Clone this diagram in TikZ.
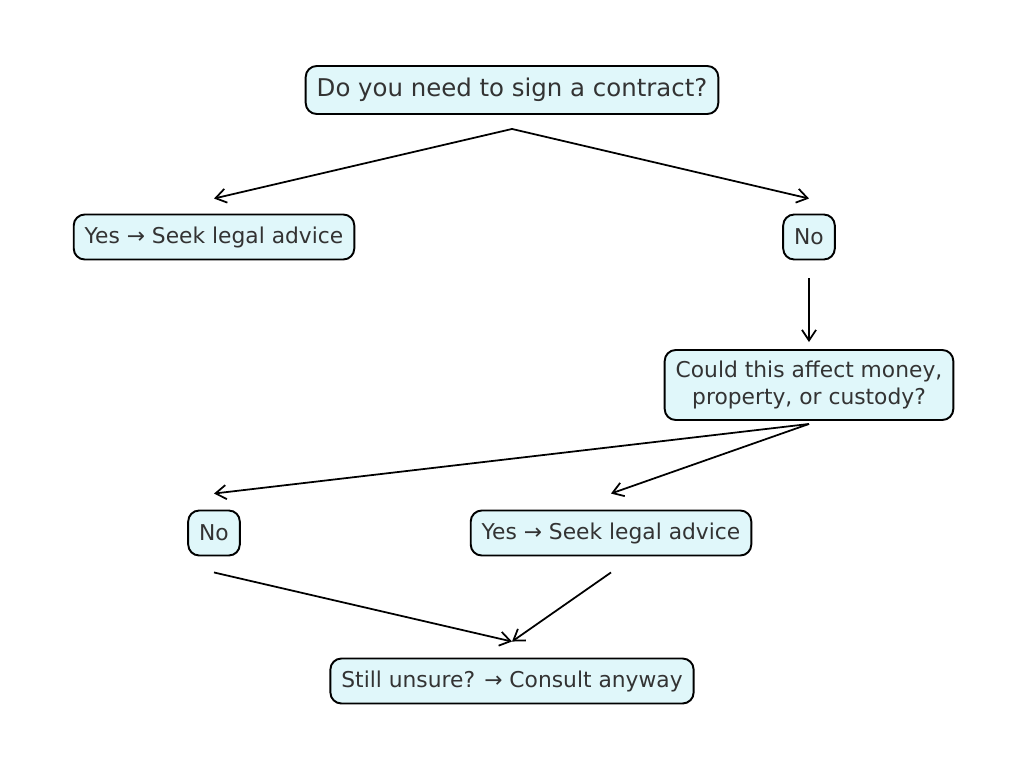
\documentclass[tikz,border=0pt]{standalone}
\usepackage{fontspec}
\setmainfont{DejaVu Sans}
\usetikzlibrary{positioning,arrows.meta}
\definecolor{boxfill}{HTML}{E0F7FA}
\definecolor{txt}{HTML}{333333}
\begin{document}
\begin{tikzpicture}[x=0.02cm,y=-0.02cm,
    box/.style={draw=black, fill=boxfill, rounded corners=0.22cm, line width=1.1pt,
      text=txt, font=\fontsize{12.4}{15}\selectfont, align=center,
      inner xsep=0.22cm, minimum height=0.9cm},
    arr/.style={-{Straight Barb[length=6pt,width=8pt]}, line width=1pt}]
    \useasboundingbox (0,0) rectangle (1024,771);
    \node[box, font=\fontsize{13.9}{16}\selectfont, minimum height=0.96cm] (q1) at (512,90) {Do you need to sign a contract?};
    \node[box] (yes1) at (214,237) {Yes → Seek legal advice};
    \node[box] (no1) at (809,237) {No};
    \node[box, minimum height=1.4cm] (q2) at (809,385) {Could this affect money,\\property, or custody?};
    \node[box] (no2) at (214,533) {No};
    \node[box] (yes2) at (611,533) {Yes → Seek legal advice};
    \node[box] (end) at (512,681) {Still unsure? → Consult anyway};

    \draw[arr] ([yshift=-0.28cm]q1.south) -- ([yshift=0.3cm]yes1.north);
    \draw[arr] ([yshift=-0.28cm]q1.south) -- ([yshift=0.3cm]no1.north);
    \draw[arr] ([yshift=-0.36cm]no1.south) -- ([yshift=0.14cm]q2.north);
    \draw[arr] ([yshift=-0.06cm]q2.south) -- ([yshift=0.32cm]no2.north);
    \draw[arr] ([yshift=-0.06cm]q2.south) -- ([yshift=0.32cm]yes2.north);
    \draw[arr] ([yshift=-0.32cm]no2.south) -- ([yshift=0.32cm]end.north);
    \draw[arr] ([yshift=-0.32cm]yes2.south) -- ([yshift=0.32cm]end.north);
\end{tikzpicture}
\end{document}
